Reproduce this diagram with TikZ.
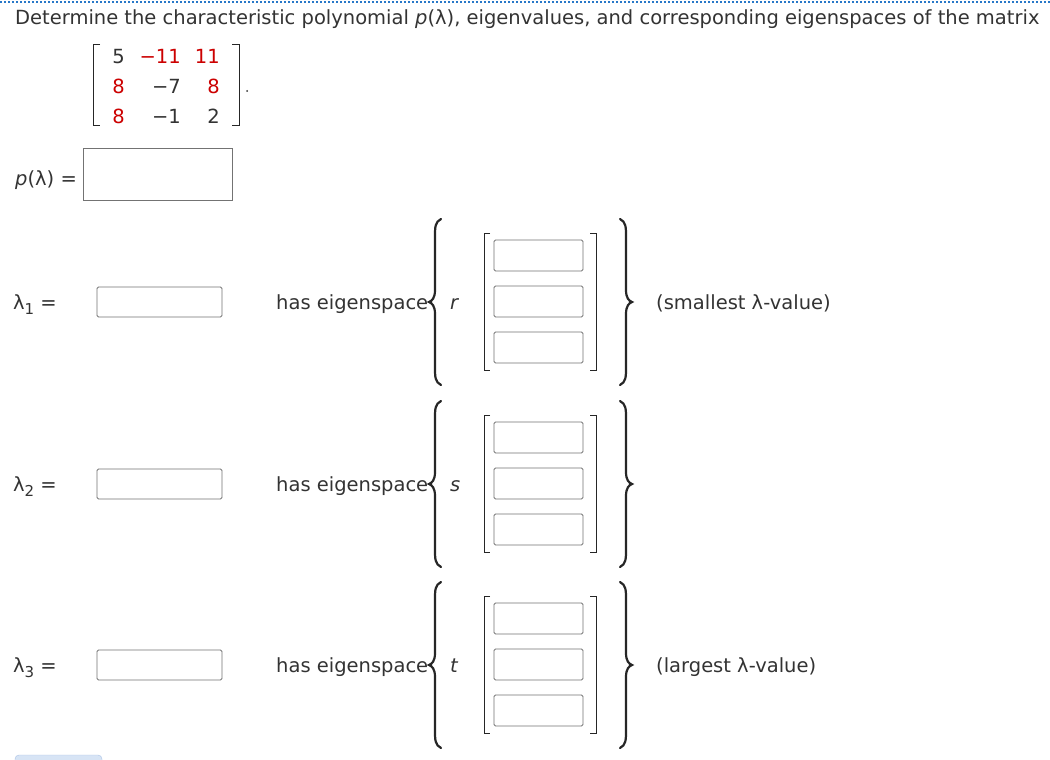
\documentclass[tikz,border=0pt]{standalone}
\usepackage{fontspec}
\setmainfont{DejaVu Sans}
\begin{document}
\begin{tikzpicture}[x=1pt,y=-1pt,
  txt/.style={font=\fontsize{19.5}{22}\selectfont,inner sep=0pt,text=black!80},
  red/.style={txt,text={rgb,255:red,204;green,0;blue,0}},
  inbox/.style={draw=black!55,line width=0.8pt,rounded corners=1.5pt},
  brk/.style={draw=black!85,line width=1pt},
  brace/.style={draw=black!85,line width=2.2pt,line cap=round}]
\useasboundingbox (0,0) rectangle (1050,760);
\fill[white] (0,0) rectangle (1050,760);
\draw[dotted,line width=2pt,color={rgb,255:red,40;green,120;blue,200}] (0,2) -- (1050,2);
\node[txt,anchor=base west] (title) at (15,25) {Determine the characteristic polynomial \textit{p}(λ), eigenvalues, and corresponding eigenspaces of the matrix};
% matrix
\draw[brk] (100,45) -- (93,45) -- (93,125) -- (100,125);
\draw[brk] (232,45) -- (239,45) -- (239,125) -- (232,125);
\node[txt,anchor=base east] (m11) at (125,64) {5};
\node[red,anchor=base east] (m12) at (181,64) {−11};
\node[red,anchor=base east] (m13) at (220,64) {11};
\node[red,anchor=base east] (m21) at (125,94) {8};
\node[txt,anchor=base east] (m22) at (181,94) {−7};
\node[red,anchor=base east] (m23) at (220,94) {8};
\node[red,anchor=base east] (m31) at (125,124) {8};
\node[txt,anchor=base east] (m32) at (181,124) {−1};
\node[txt,anchor=base east] (m33) at (220,124) {2};
\fill[black!80] (247,91) circle (1pt);
% p
\node[txt,anchor=base west] (p) at (15,185) {\textit{p}(λ) =};
\draw[inbox,rounded corners=0pt] (83,148) rectangle (232,200);
% rows
\foreach \c/\lab/\var/\note in {302/1/r/(smallest λ-value),484/2/s/,665/3/t/(largest λ-value)}{
  \node[txt,anchor=base west] at (13,\c+7) {λ\raisebox{-5pt}{\fontsize{15}{16}\selectfont\lab} =};
  \draw[inbox] (97,\c-15) rectangle (222,\c+15);
  \node[txt,anchor=base west] at (276,\c+7) {has eigenspace};
  \node[txt,anchor=base west] at (450,\c+7) {\textit{\var}};
  \node[txt,anchor=base west] at (656,\c+7) {\note};
  % left brace
  \draw[brace] (441,\c-83) .. controls (435,\c-80) and (435,\c-75) .. (435,\c-65) -- (435,\c-12)
     .. controls (435,\c-4) and (432,\c-1) .. (429,\c)
     .. controls (432,\c+1) and (435,\c+4) .. (435,\c+12) -- (435,\c+65)
     .. controls (435,\c+75) and (435,\c+80) .. (441,\c+83);
  % right brace
  \draw[brace] (620,\c-83) .. controls (626,\c-80) and (626,\c-75) .. (626,\c-65) -- (626,\c-12)
     .. controls (626,\c-4) and (629,\c-1) .. (632,\c)
     .. controls (629,\c+1) and (626,\c+4) .. (626,\c+12) -- (626,\c+65)
     .. controls (626,\c+75) and (626,\c+80) .. (620,\c+83);
  % vector brackets
  \draw[brk] (490,\c-69) -- (484,\c-69) -- (484,\c+68) -- (490,\c+68);
  \draw[brk] (590,\c-69) -- (596,\c-69) -- (596,\c+68) -- (590,\c+68);
  \draw[inbox] (494,\c-62) rectangle (583,\c-31);
  \draw[inbox] (494,\c-16) rectangle (583,\c+15);
  \draw[inbox] (494,\c+30) rectangle (583,\c+61);
}
\draw[fill={rgb,255:red,215;green,228;blue,245},draw={rgb,255:red,170;green,195;blue,230},rounded corners=4pt] (15,755) rectangle (102,775);
\end{tikzpicture}
\end{document}
